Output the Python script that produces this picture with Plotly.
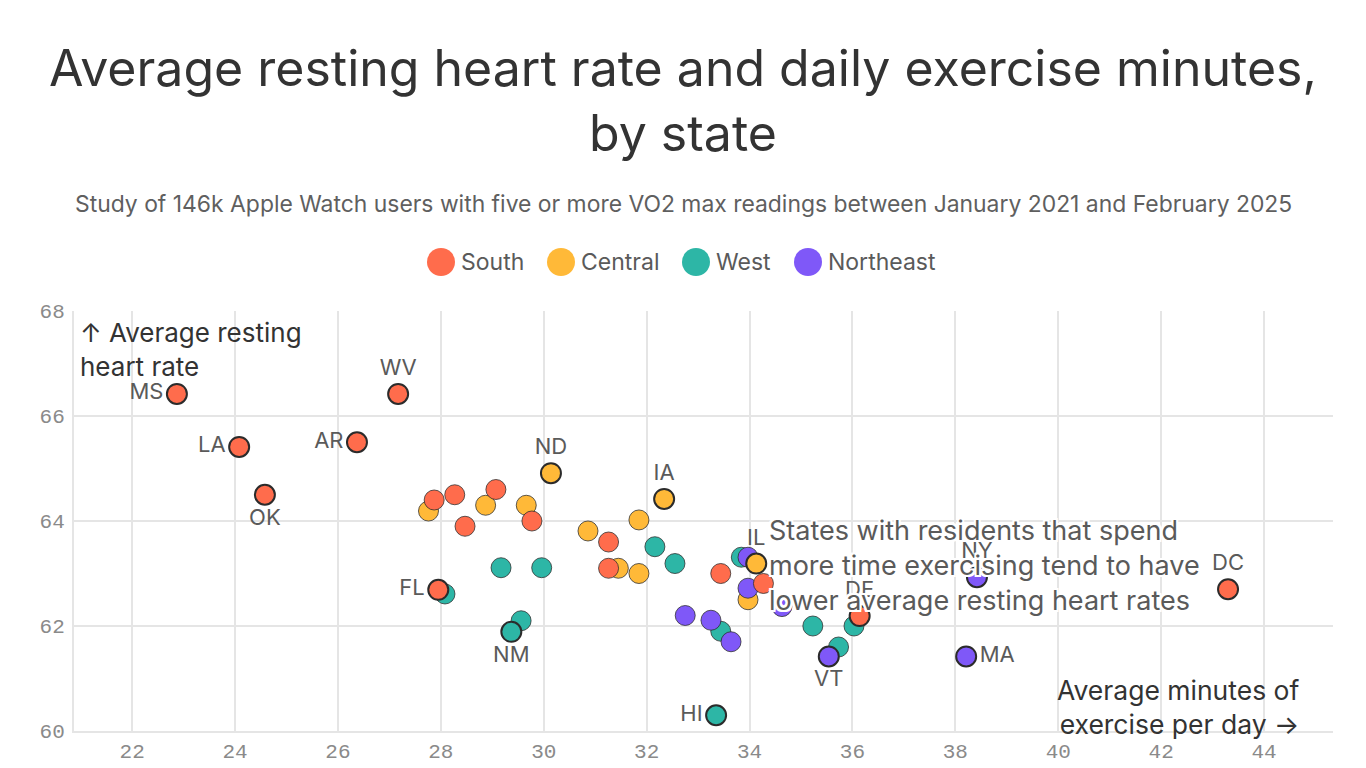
import plotly.graph_objects as go

# ---------------- data ----------------
regions = ["South", "Central", "West", "Northeast"]
region_colors = ["#ff6c4c", "#ffb938", "#2db6a6", "#7f58f8"]

south_x = [22.87, 27.17, 24.08, 26.37, 24.58, 27.95, 36.14, 43.30,
           27.87, 28.27, 29.07, 28.47, 29.77, 31.26, 31.26, 33.44, 34.27]
south_y = [66.42, 66.42, 65.41, 65.50, 64.50, 62.69, 62.19, 62.70,
           64.40, 64.50, 64.60, 63.90, 64.00, 63.60, 63.10, 63.00, 62.81]
south_lbl = ["MS", "WV", "LA", "AR", "OK", "FL", "DE", "DC"] + [""] * 9

central_x = [30.14, 32.34, 34.13,
             27.76, 28.87, 29.66, 30.86, 31.85, 31.45, 31.85, 33.97]
central_y = [64.91, 64.42, 63.19,
             64.19, 64.30, 64.30, 63.81, 64.02, 63.10, 63.00, 62.50]
central_lbl = ["ND", "IA", "IL"] + [""] * 8

west_x = [29.37, 33.35,
          28.08, 29.56, 29.17, 29.96, 32.16, 32.55, 33.84, 33.44, 35.23, 36.03, 35.73]
west_y = [61.89, 60.30,
          62.61, 62.10, 63.11, 63.11, 63.51, 63.19, 63.31, 61.90, 62.00, 62.00, 61.60]
west_lbl = ["NM", "HI"] + [""] * 11

northeast_x = [38.42, 35.54, 38.21,
               32.75, 33.25, 33.64, 33.97, 33.97, 34.63]
northeast_y = [62.93, 61.42, 61.42,
               62.20, 62.11, 61.70, 63.31, 62.72, 62.37]
northeast_lbl = ["NY", "VT", "MA"] + [""] * 6

label_position = {
    "MS": "middle left", "LA": "middle left", "AR": "middle left",
    "FL": "middle left", "HI": "middle left",
    "WV": "top center", "ND": "top center", "IA": "top center",
    "IL": "top center", "DE": "top center", "NY": "top center", "DC": "top center",
    "OK": "bottom center", "NM": "bottom center", "VT": "bottom center",
    "MA": "middle right",
}

x_ticks = [22, 24, 26, 28, 30, 32, 34, 36, 38, 40, 42, 44]
y_ticks = [60, 62, 64, 66, 68]

title_text = "Average resting heart rate and daily exercise minutes,<br>by state"
subtitle_text = ("Study of 146k Apple Watch users with five or more VO2 max readings "
                 "between January 2021 and February 2025")
note_text = ("States with residents that spend<br>more time exercising tend to have"
             "<br>lower average resting heart rates")

series = {
    "South": (south_x, south_y, south_lbl),
    "Central": (central_x, central_y, central_lbl),
    "West": (west_x, west_y, west_lbl),
    "Northeast": (northeast_x, northeast_y, northeast_lbl),
}
color_of = dict(zip(regions, region_colors))

# ---------------- figure ----------------
FONT = "Inter"
MONO = "Liberation Mono"
fig = go.Figure()

draw_order = ["West", "Central", "Northeast", "South"]
# unlabeled points first
for r in draw_order:
    xs, ys, ls = series[r]
    px = [x for x, l in zip(xs, ls) if not l]
    py = [y for y, l in zip(ys, ls) if not l]
    fig.add_trace(go.Scatter(
        x=px, y=py, mode="markers", name=r, showlegend=False,
        marker=dict(size=20, color=color_of[r],
                    line=dict(color="rgba(40,40,40,0.75)", width=1)),
        hovertemplate=r + "<br>%{x} min<br>%{y} bpm<extra></extra>",
    ))
# labeled points on top
for r in draw_order:
    xs, ys, ls = series[r]
    sel = [(x, y, l) for x, y, l in zip(xs, ys, ls) if l]
    fig.add_trace(go.Scatter(
        x=[s[0] for s in sel], y=[s[1] for s in sel], text=[s[2] for s in sel],
        mode="markers+text", name=r, showlegend=False,
        textposition=[label_position[s[2]] for s in sel],
        textfont=dict(family=FONT, size=22, color="#5a5a5a"),
        marker=dict(size=20, color=color_of[r],
                    line=dict(color="#2b2b2b", width=2)),
        cliponaxis=False,
        hovertemplate="%{text}<br>%{x} min<br>%{y} bpm<extra></extra>",
    ))

L, R, T, B = 74, 33, 311, 37
W, H = 1366, 768
pw, ph = W - L - R, H - T - B


def paper_x(px):
    return (px - L) / pw


def paper_y(py):
    return (H - B - py) / ph


halo = ("2px 2px 0 #fff, -2px -2px 0 #fff, 2px -2px 0 #fff, -2px 2px 0 #fff, "
        "0 2px 0 #fff, 0 -2px 0 #fff, 2px 0 0 #fff, -2px 0 0 #fff")

annotations = [
    dict(text=subtitle_text, x=paper_x(683), y=paper_y(204), xref="paper", yref="paper",
         xanchor="center", yanchor="middle", showarrow=False,
         font=dict(family=FONT, size=22.9, color="#5f5f5f")),
    dict(text="↑ Average resting<br>heart rate", x=paper_x(78), y=paper_y(315),
         xref="paper", yref="paper", xanchor="left", yanchor="top", align="left",
         showarrow=False, font=dict(family=FONT, size=26, color="#333333")),
    dict(text="Average minutes of<br>exercise per day →", x=paper_x(1301), y=paper_y(742),
         xref="paper", yref="paper", xanchor="right", yanchor="bottom", align="right",
         showarrow=False, font=dict(family=FONT, size=26.5, color="#333333")),
    dict(text=note_text, x=34.33, y=63.16, xref="x", yref="y",
         xanchor="left", yanchor="middle", align="left", showarrow=False,
         font=dict(family=FONT, size=27, color="#5a5a5a", shadow=halo)),
]

# manual legend with large circles
legend_items = [("South", 441), ("Central", 561), ("West", 696), ("Northeast", 808)]
shapes = []
for name, cx in legend_items:
    shapes.append(dict(type="circle", xref="paper", yref="paper",
                       xsizemode="pixel", ysizemode="pixel",
                       xanchor=paper_x(cx), yanchor=paper_y(262),
                       x0=-14, x1=14, y0=-14, y1=14,
                       fillcolor=color_of[name], line=dict(width=0)))
    annotations.append(dict(text=name, x=paper_x(cx + 18), y=paper_y(262),
                            xref="paper", yref="paper", xanchor="left", yanchor="middle",
                            showarrow=False,
                            font=dict(family=FONT, size=23, color="#5a5a5a")))

fig.update_layout(
    width=W, height=H,
    margin=dict(l=L, r=R, t=T, b=B, autoexpand=False),
    paper_bgcolor="white", plot_bgcolor="white",
    title=dict(text=title_text, x=0.5, xanchor="center", xref="container",
               y=1 - 86 / H, yanchor="middle", yref="container",
               font=dict(family=FONT, size=50, color="#333333")),
    showlegend=False,
    annotations=annotations,
    shapes=shapes,
    xaxis=dict(range=[20.87, 45.34], tickvals=x_ticks, ticktext=[str(v) for v in x_ticks],
               showgrid=True, gridcolor="#e5e5e5", gridwidth=2,
               showline=True, linecolor="#e5e5e5", linewidth=2,
               zeroline=False, ticks="", ticklabelstandoff=0, automargin=False,
               tickfont=dict(family=MONO, size=21, color="#8a8a8a")),
    yaxis=dict(range=[60, 68], tickvals=y_ticks, ticktext=[str(v) for v in y_ticks],
               showgrid=True, gridcolor="#e5e5e5", gridwidth=2,
               showline=True, linecolor="#e5e5e5", linewidth=2, mirror=False,
               zeroline=False, ticks="", ticklabelstandoff=3, automargin=False,
               tickfont=dict(family=MONO, size=21, color="#8a8a8a")),
    hovermode="closest",
)

fig.write_html("out.html")
